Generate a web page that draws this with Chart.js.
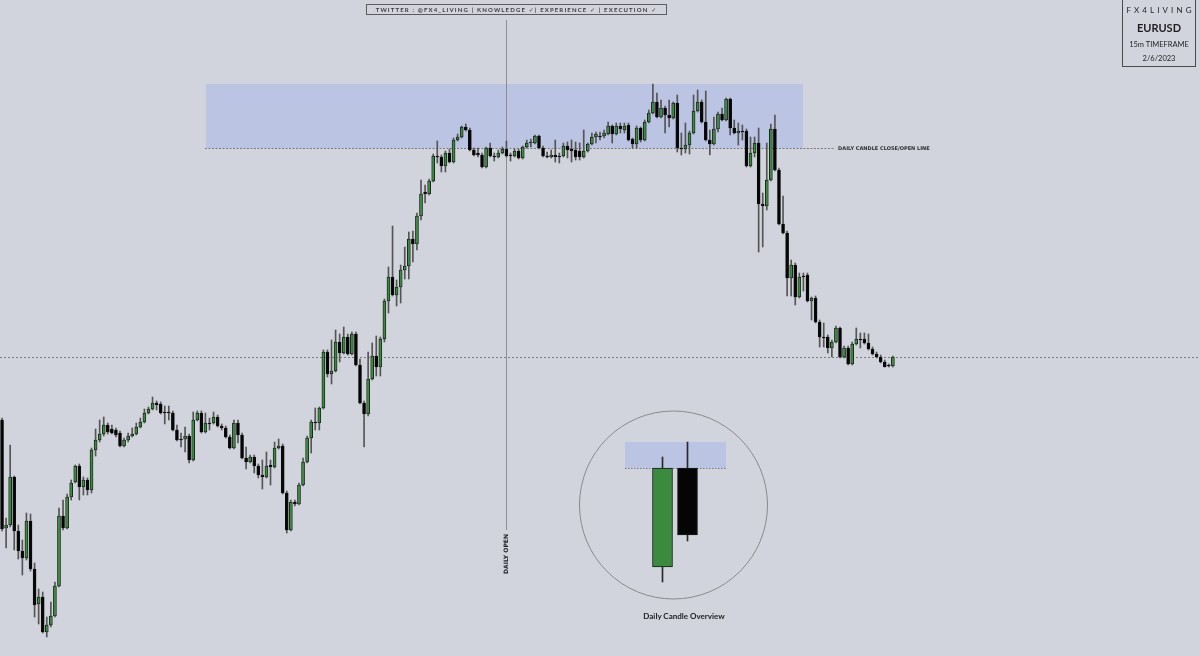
<!DOCTYPE html>
<html>
<head>
<meta charset="utf-8">
<script src="https://cdn.jsdelivr.net/npm/chart.js@4.4.1/dist/chart.umd.min.js"></script>
<style>
html,body{margin:0;padding:0;background:#d1d4dc;}
body{width:1200px;height:656px;position:relative;overflow:hidden;font-family:"Lato","DejaVu Sans",sans-serif;}
#main{position:absolute;left:0;top:0;}
#inset{position:absolute;left:575px;top:409px;}
#hdr{position:absolute;left:366px;top:4px;width:301px;height:11px;box-sizing:border-box;border:1px solid #5c5c5c;font-size:6px;line-height:9px;letter-spacing:1.15px;color:#3c3c3c;text-align:center;white-space:nowrap;font-weight:700;overflow:hidden;}
#badge{position:absolute;left:1122px;top:-1px;width:74px;height:68px;box-sizing:border-box;border:1px solid #4a4a4a;color:#1e1e1e;}
#badge div{position:absolute;left:0;right:0;text-align:center;white-space:nowrap;}
#b1{top:5px;font-size:8px;line-height:10px;letter-spacing:3.1px;padding-left:3px;}
#b2{top:21px;font-size:11px;line-height:14px;font-weight:700;}
#b3{top:40px;font-size:7.5px;line-height:10px;}
#b4{top:54px;font-size:7.5px;line-height:10px;}
#ovw{position:absolute;left:624px;top:611px;width:120px;text-align:center;font-size:8px;line-height:11px;font-weight:700;color:#222;}
</style>
</head>
<body>
<canvas id="main" width="1200" height="656"></canvas>
<canvas id="inset" width="200" height="196"></canvas>
<div id="hdr">TWITTER : @FX4_LIVING | KNOWLEDGE ✓| EXPERIENCE ✓ | EXECUTION ✓</div>
<div id="badge"><div id="b1">FX4LIVING</div><div id="b2">EURUSD</div><div id="b3">15m TIMEFRAME</div><div id="b4">2/6/2023</div></div>
<div id="ovw">Daily Candle Overview</div>
<script>
// ===== EURUSD 15m candles =====
const open = [
1.08580,1.08472,1.08475,1.08523,1.08469,1.08449,1.08442,1.08479,1.08431,1.08396,
1.08403,1.08368,1.08375,1.08384,1.08414,1.08484,1.08472,1.08503,1.08518,1.08534,
1.08513,1.08520,1.08510,1.08550,1.08560,1.08566,1.08575,1.08571,1.08570,1.08567,
1.08554,1.08560,1.08564,1.08566,1.08573,1.08578,1.08587,1.08591,1.08597,1.08596,
1.08588,1.08588,1.08587,1.08570,1.08561,1.08561,1.08564,1.08540,1.08580,1.08587,
1.08568,1.08577,1.08577,1.08583,1.08574,1.08572,1.08563,1.08552,1.08577,1.08565,
1.08542,1.08538,1.08543,1.08534,1.08525,1.08523,1.08535,1.08533,1.08552,1.08554,
1.08507,1.08470,1.08498,1.08496,1.08515,1.08538,1.08562,1.08578,1.08577,1.08592,
1.08648,1.08626,1.08629,1.08658,1.08647,1.08663,1.08646,1.08666,1.08635,1.08597,
1.08586,1.08621,1.08644,1.08633,1.08661,1.08699,1.08723,1.08705,1.08713,1.08730,
1.08734,1.08761,1.08756,1.08784,1.08808,1.08806,1.08819,1.08844,1.08843,1.08834,
1.08847,1.08838,1.08860,1.08863,1.08873,1.08870,1.08850,1.08847,1.08845,1.08833,
1.08852,1.08844,1.08843,1.08847,1.08851,1.08845,1.08844,1.08849,1.08842,1.08853,
1.08857,1.08857,1.08864,1.08852,1.08844,1.08843,1.08845,1.08844,1.08844,1.08854,
1.08851,1.08850,1.08849,1.08843,1.08849,1.08856,1.08863,1.08864,1.08864,1.08866,
1.08874,1.08866,1.08874,1.08870,1.08875,1.08861,1.08856,1.08872,1.08860,1.08878,
1.08887,1.08898,1.08883,1.08892,1.08885,1.08882,1.08897,1.08852,1.08851,1.08855,
1.08867,1.08889,1.08898,1.08878,1.08860,1.08856,1.08871,1.08886,1.08880,1.08901,
1.08872,1.08867,1.08869,1.08869,1.08834,1.08847,1.08857,1.08796,1.08794,1.08820,
1.08871,1.08830,1.08776,1.08767,1.08722,1.08735,1.08703,1.08724,1.08725,1.08699,
1.08702,1.08678,1.08663,1.08663,1.08652,1.08658,1.08672,1.08643,1.08652,1.08636,
1.08656,1.08661,1.08661,1.08657,1.08651,1.08646,1.08643,1.08638,1.08635,1.08634
];
const high = [
1.08582,1.08482,1.08555,1.08524,1.08475,1.08460,1.08487,1.08486,1.08437,1.08411,
1.08408,1.08383,1.08398,1.08418,1.08492,1.08500,1.08506,1.08520,1.08535,1.08536,
1.08523,1.08522,1.08552,1.08571,1.08580,1.08583,1.08577,1.08575,1.08572,1.08569,
1.08562,1.08567,1.08572,1.08577,1.08582,1.08591,1.08593,1.08603,1.08599,1.08598,
1.08594,1.08594,1.08589,1.08575,1.08567,1.08573,1.08566,1.08588,1.08589,1.08589,
1.08587,1.08582,1.08588,1.08585,1.08576,1.08574,1.08565,1.08580,1.08580,1.08567,
1.08553,1.08545,1.08545,1.08536,1.08540,1.08548,1.08540,1.08558,1.08561,1.08556,
1.08509,1.08500,1.08500,1.08517,1.08542,1.08564,1.08580,1.08592,1.08593,1.08650,
1.08650,1.08660,1.08670,1.08666,1.08673,1.08666,1.08668,1.08668,1.08641,1.08599,
1.08648,1.08657,1.08664,1.08663,1.08701,1.08733,1.08774,1.08720,1.08735,1.08753,
1.08768,1.08769,1.08787,1.08820,1.08815,1.08821,1.08846,1.08859,1.08845,1.08849,
1.08851,1.08862,1.08866,1.08874,1.08876,1.08872,1.08852,1.08852,1.08847,1.08853,
1.08857,1.08847,1.08850,1.08853,1.08859,1.08847,1.08851,1.08851,1.08854,1.08860,
1.08861,1.08865,1.08865,1.08854,1.08848,1.08850,1.08860,1.08847,1.08857,1.08858,
1.08860,1.08858,1.08857,1.08870,1.08857,1.08867,1.08868,1.08868,1.08870,1.08878,
1.08875,1.08877,1.08877,1.08877,1.08877,1.08862,1.08874,1.08873,1.08880,1.08890,
1.08916,1.08907,1.08900,1.08894,1.08900,1.08898,1.08905,1.08867,1.08877,1.08869,
1.08905,1.08910,1.08900,1.08909,1.08870,1.08883,1.08888,1.08892,1.08902,1.08902,
1.08880,1.08877,1.08875,1.08871,1.08863,1.08863,1.08872,1.08807,1.08857,1.08876,
1.08885,1.08832,1.08804,1.08769,1.08740,1.08737,1.08727,1.08727,1.08727,1.08703,
1.08704,1.08680,1.08677,1.08665,1.08660,1.08674,1.08673,1.08654,1.08654,1.08658,
1.08672,1.08667,1.08667,1.08666,1.08653,1.08648,1.08645,1.08640,1.08636,1.08644
];
const low = [
1.08469,1.08452,1.08473,1.08450,1.08441,1.08425,1.08440,1.08429,1.08383,1.08376,
1.08367,1.08363,1.08373,1.08383,1.08413,1.08470,1.08471,1.08500,1.08517,1.08500,
1.08505,1.08505,1.08507,1.08544,1.08558,1.08564,1.08566,1.08566,1.08563,1.08553,
1.08553,1.08558,1.08563,1.08565,1.08572,1.08577,1.08586,1.08590,1.08590,1.08586,
1.08576,1.08580,1.08569,1.08559,1.08553,1.08548,1.08537,1.08539,1.08579,1.08567,
1.08567,1.08570,1.08576,1.08573,1.08570,1.08562,1.08551,1.08551,1.08557,1.08541,
1.08531,1.08537,1.08527,1.08522,1.08511,1.08522,1.08515,1.08532,1.08551,1.08506,
1.08467,1.08469,1.08494,1.08495,1.08514,1.08537,1.08547,1.08570,1.08570,1.08591,
1.08623,1.08616,1.08628,1.08638,1.08646,1.08645,1.08645,1.08634,1.08596,1.08553,
1.08584,1.08620,1.08624,1.08624,1.08658,1.08687,1.08704,1.08694,1.08697,1.08721,
1.08721,1.08738,1.08750,1.08780,1.08797,1.08805,1.08818,1.08837,1.08828,1.08828,
1.08837,1.08837,1.08859,1.08862,1.08869,1.08849,1.08844,1.08843,1.08832,1.08832,
1.08843,1.08839,1.08842,1.08846,1.08843,1.08839,1.08843,1.08841,1.08841,1.08852,
1.08853,1.08856,1.08851,1.08843,1.08842,1.08842,1.08838,1.08837,1.08843,1.08842,
1.08838,1.08840,1.08840,1.08842,1.08848,1.08855,1.08857,1.08860,1.08862,1.08865,
1.08857,1.08865,1.08867,1.08867,1.08859,1.08852,1.08852,1.08858,1.08859,1.08877,
1.08886,1.08882,1.08882,1.08867,1.08873,1.08881,1.08848,1.08845,1.08847,1.08846,
1.08866,1.08888,1.08877,1.08859,1.08845,1.08855,1.08868,1.08879,1.08879,1.08865,
1.08866,1.08855,1.08860,1.08833,1.08833,1.08843,1.08748,1.08753,1.08790,1.08819,
1.08829,1.08775,1.08766,1.08704,1.08704,1.08695,1.08702,1.08709,1.08698,1.08680,
1.08677,1.08653,1.08653,1.08647,1.08643,1.08657,1.08642,1.08642,1.08635,1.08635,
1.08655,1.08652,1.08656,1.08650,1.08645,1.08642,1.08637,1.08633,1.08633,1.08633
];
const close = [
1.08471,1.08475,1.08523,1.08469,1.08449,1.08442,1.08479,1.08431,1.08395,1.08403,
1.08368,1.08375,1.08384,1.08414,1.08484,1.08472,1.08503,1.08517,1.08534,1.08513,
1.08520,1.08510,1.08550,1.08560,1.08566,1.08575,1.08568,1.08567,1.08565,1.08554,
1.08560,1.08564,1.08566,1.08573,1.08578,1.08587,1.08591,1.08597,1.08595,1.08587,
1.08587,1.08587,1.08570,1.08560,1.08560,1.08564,1.08540,1.08580,1.08587,1.08568,
1.08577,1.08576,1.08583,1.08574,1.08572,1.08563,1.08552,1.08577,1.08565,1.08542,
1.08538,1.08543,1.08534,1.08525,1.08523,1.08534,1.08533,1.08552,1.08554,1.08507,
1.08470,1.08498,1.08496,1.08515,1.08538,1.08562,1.08578,1.08577,1.08592,1.08648,
1.08626,1.08629,1.08658,1.08647,1.08663,1.08646,1.08666,1.08635,1.08597,1.08586,
1.08621,1.08644,1.08633,1.08661,1.08699,1.08723,1.08705,1.08713,1.08730,1.08734,
1.08761,1.08756,1.08784,1.08806,1.08806,1.08819,1.08844,1.08843,1.08834,1.08847,
1.08838,1.08860,1.08863,1.08873,1.08870,1.08850,1.08845,1.08845,1.08833,1.08852,
1.08844,1.08843,1.08847,1.08851,1.08844,1.08844,1.08849,1.08842,1.08853,1.08857,
1.08858,1.08864,1.08852,1.08844,1.08843,1.08845,1.08843,1.08843,1.08854,1.08850,
1.08849,1.08843,1.08843,1.08849,1.08856,1.08863,1.08866,1.08863,1.08867,1.08874,
1.08866,1.08874,1.08871,1.08874,1.08860,1.08856,1.08872,1.08860,1.08878,1.08887,
1.08898,1.08883,1.08892,1.08885,1.08882,1.08897,1.08852,1.08851,1.08855,1.08867,
1.08889,1.08898,1.08878,1.08860,1.08856,1.08871,1.08886,1.08880,1.08901,1.08872,
1.08867,1.08869,1.08868,1.08834,1.08847,1.08857,1.08796,1.08794,1.08820,1.08871,
1.08830,1.08776,1.08767,1.08722,1.08735,1.08703,1.08723,1.08723,1.08699,1.08702,
1.08678,1.08663,1.08662,1.08652,1.08658,1.08672,1.08643,1.08652,1.08636,1.08656,
1.08661,1.08660,1.08657,1.08651,1.08646,1.08643,1.08638,1.08633,1.08634,1.08643
];

// chart window: 295 fifteen-minute slots, daily open at slot 124
const slotCount = 295;
const dailyOpenIndex = 124;
const priceTop = 1.09000, priceBottom = 1.08344;

// key levels
const zoneHigh = 1.08916, zoneLow = 1.08852;          // supply zone / daily close-open line
const zoneFromIndex = 50.14, zoneToIndex = 196.9;
const closeOpenLineTo = 204.8;
const currentLevel = 1.08643;                          // dotted horizontal line
const dailyOpenTop = 1.08980, dailyOpenBottom = 1.08470;

// daily candle overview (inset)
const dayLabels = ['', '', '', 'Fri 3 Feb', 'Mon 6 Feb', '', '', ''];
const dayOpen  = [null, null, null, 1.0701, 1.0800];
const dayHigh  = [null, null, null, 1.0811, 1.0826];
const dayLow   = [null, null, null, 1.0686, 1.0727];
const dayClose = [null, null, null, 1.0800, 1.0733];
const insetZoneFrom = 1.5, insetZoneTo = 5.54;
const insetTop = 1.0859, insetBottom = 1.0663;

const GREEN = '#3a8b3e', BLACK = '#050505';

// ===== category labels (15m timestamps) =====
const labels = [];
const t0 = Date.UTC(2023, 1, 6, 0, 0) - dailyOpenIndex * 900000;
for (let i = 0; i < slotCount; i++) {
  labels.push(new Date(t0 + i * 900000).toISOString().slice(5, 16).replace('T', ' '));
}

const bodies = open.map((o, i) => [o, close[i]]);
const wicks = low.map((l, i) => [l, high[i]]);

const overlay = {
  id: 'overlay',
  beforeDatasetsDraw(chart) {
    const { ctx, chartArea: a, scales: { x, y } } = chart;
    ctx.save();
    // zone
    const zx1 = x.getPixelForValue(zoneFromIndex), zx2 = x.getPixelForValue(zoneToIndex);
    const zy1 = y.getPixelForValue(zoneHigh), zy2 = y.getPixelForValue(zoneLow);
    ctx.fillStyle = '#bbc4e2';
    ctx.fillRect(zx1, zy1, zx2 - zx1, zy2 - zy1);
    // daily close/open line
    ctx.strokeStyle = '#7a7a7a';
    ctx.lineWidth = 1;
    ctx.setLineDash([2, 1.5]);
    const lx2 = x.getPixelForValue(closeOpenLineTo);
    ctx.beginPath();
    ctx.moveTo(zx1 - 1, Math.round(zy2) + 0.5);
    ctx.lineTo(lx2, Math.round(zy2) + 0.5);
    ctx.stroke();
    // current level dotted line
    const cy = Math.round(y.getPixelForValue(currentLevel)) + 0.5;
    ctx.strokeStyle = '#7c7c7c';
    ctx.setLineDash([2, 2]);
    ctx.beginPath();
    ctx.moveTo(a.left, cy);
    ctx.lineTo(a.right, cy);
    ctx.stroke();
    // daily open vertical line
    const vx = Math.round(x.getPixelForValue(dailyOpenIndex)) + 0.5;
    ctx.strokeStyle = '#8e8e8e';
    ctx.setLineDash([]);
    ctx.beginPath();
    ctx.moveTo(vx, y.getPixelForValue(dailyOpenTop));
    ctx.lineTo(vx, y.getPixelForValue(dailyOpenBottom));
    ctx.stroke();
    ctx.restore();
  },
  afterDatasetsDraw(chart) {
    const { ctx, scales: { x, y } } = chart;
    ctx.save();
    ctx.fillStyle = '#2e2e2e';
    ctx.font = 'bold 5px "DejaVu Sans", sans-serif';
    ctx.textBaseline = 'middle';
    ctx.textAlign = 'left';
    ctx.fillText('DAILY CANDLE CLOSE/OPEN LINE', x.getPixelForValue(closeOpenLineTo) + 3, y.getPixelForValue(zoneLow) + 0.5);
    // rotated DAILY OPEN
    const vx = x.getPixelForValue(dailyOpenIndex);
    const by = y.getPixelForValue(dailyOpenBottom);
    ctx.translate(vx, by + 24);
    ctx.rotate(-Math.PI / 2);
    ctx.textAlign = 'center';
    ctx.fillStyle = '#1e1e1e';
    ctx.font = 'bold 6px "DejaVu Sans", sans-serif';
    ctx.fillText('DAILY OPEN', 0, 0);
    ctx.restore();
  }
};

new Chart(document.getElementById('main'), {
  type: 'bar',
  data: {
    labels: labels,
    datasets: [
      {
        label: 'Body',
        data: bodies,
        backgroundColor: (c) => (close[c.dataIndex] >= open[c.dataIndex] ? GREEN : BLACK),
        borderColor: '#111111',
        borderWidth: 0.8,
        borderSkipped: false,
        barThickness: 3,
        grouped: false,
        order: 0
      },
      {
        label: 'Wick',
        data: wicks,
        backgroundColor: '#555555',
        borderWidth: 0,
        barThickness: 1,
        grouped: false,
        order: 1
      }
    ]
  },
  options: {
    responsive: false,
    maintainAspectRatio: false,
    animation: false,
    events: [],
    layout: { padding: 0 },
    plugins: { legend: { display: false }, tooltip: { enabled: false }, title: { display: false } },
    scales: {
      x: { display: false, offset: true },
      y: { display: false, min: priceBottom, max: priceTop }
    }
  },
  plugins: [overlay]
});

// ===== inset: daily candle overview =====
const insetDeco = {
  id: 'insetDeco',
  beforeDatasetsDraw(chart) {
    const { ctx, scales: { x, y } } = chart;
    ctx.save();
    // circle
    ctx.strokeStyle = '#8a8a8a';
    ctx.lineWidth = 1;
    ctx.beginPath();
    ctx.arc(98.5, 96, 94, 0, Math.PI * 2);
    ctx.stroke();
    // zone
    const x1 = x.getPixelForValue(insetZoneFrom), x2 = x.getPixelForValue(insetZoneTo);
    const y1 = y.getPixelForValue(dayHigh[4]), y2 = y.getPixelForValue(dayOpen[4]);
    ctx.fillStyle = '#bbc4e2';
    ctx.fillRect(x1, y1, x2 - x1, y2 - y1);
    ctx.strokeStyle = '#7a7a7a';
    ctx.setLineDash([1.5, 1.5]);
    ctx.beginPath();
    ctx.moveTo(x1, Math.round(y2) + 0.5);
    ctx.lineTo(x2, Math.round(y2) + 0.5);
    ctx.stroke();
    ctx.restore();
  }
};

new Chart(document.getElementById('inset'), {
  type: 'bar',
  data: {
    labels: dayLabels,
    datasets: [
      {
        label: 'Daily body',
        data: dayOpen.map((o, i) => (o === null ? null : [o, dayClose[i]])),
        backgroundColor: (c) => (dayClose[c.dataIndex] >= dayOpen[c.dataIndex] ? GREEN : BLACK),
        borderColor: '#1a1a1a',
        borderWidth: 1,
        borderSkipped: false,
        barThickness: 20,
        grouped: false,
        order: 0
      },
      {
        label: 'Daily wick',
        data: dayLow.map((l, i) => (l === null ? null : [l, dayHigh[i]])),
        backgroundColor: '#2a2a2a',
        barThickness: 1,
        grouped: false,
        order: 1
      }
    ]
  },
  options: {
    responsive: false,
    maintainAspectRatio: false,
    animation: false,
    events: [],
    layout: { padding: 0 },
    plugins: { legend: { display: false }, tooltip: { enabled: false } },
    scales: {
      x: { display: false, offset: true },
      y: { display: false, min: insetBottom, max: insetTop }
    }
  },
  plugins: [insetDeco]
});
</script>
</body>
</html>
